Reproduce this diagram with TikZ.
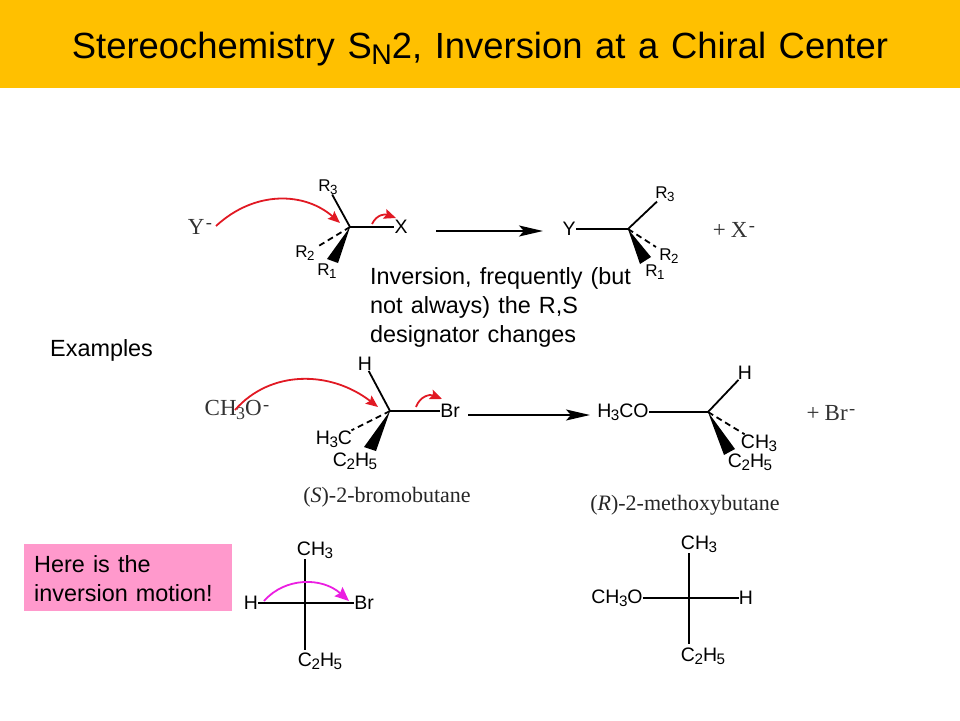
\documentclass[tikz,border=0pt]{standalone}
\usepackage{fontspec}
\setmainfont{Liberation Sans}
\newfontfamily\serifatom{Liberation Serif}
\newfontfamily\widesans[WordSpace=1.25]{Liberation Sans}
\usetikzlibrary{arrows.meta}
\definecolor{banner}{RGB}{255,192,0}
\definecolor{pinkbox}{RGB}{255,153,204}
\definecolor{pushred}{RGB}{225,25,35}
\definecolor{motionpink}{RGB}{235,30,225}
\newcommand{\lo}[1]{\kern-.5pt\raisebox{-.32ex}{\scalebox{.78}{#1}}}
\newcommand{\hi}[1]{\kern1.5pt\raisebox{.55ex}{\scalebox{.8}{#1}}}

\begin{document}
\begin{tikzpicture}[x=1pt,y=-1pt,
    atom/.style={font=\fontsize{19.5}{20}\selectfont,inner sep=0pt},
    smallatom/.style={font=\fontsize{17}{17}\selectfont,inner sep=0pt},
    ion/.style={font=\serifatom\fontsize{23}{23}\selectfont,inner sep=0pt,text=black!80},
    caption/.style={font=\serifatom\fontsize{22}{22}\selectfont,inner sep=0pt,text=black!85},
    note/.style={font=\widesans\fontsize{23.4}{29}\selectfont,inner sep=0pt,align=left,anchor=west},
    bond/.style={line width=1.8pt},
    hash/.style={line width=1.8pt,dash pattern=on 6pt off 4pt},
    wedge/.style={fill=black},
    react/.style={line width=1.8pt,-{Stealth[length=24pt,width=11pt,inset=5pt]}},
    push/.style={pushred,line width=1.8pt,-{Stealth[length=12pt,width=10pt,inset=2pt]}},
    motion/.style={motionpink,line width=1.8pt,-{Stealth[length=14pt,width=12pt,inset=2pt]}}]
       \useasboundingbox (0,0) rectangle (960,720);
       % Draw banner and title
       \fill[banner] (0,0) rectangle (960,88);
       \node (title) at (480,49) [inner sep=0pt,font=\widesans\fontsize{36.4}{36}\selectfont] {Stereochemistry S\lo{N}2, Inversion at a Chiral Center};

       % Draw general reaction, left side
       \coordinate (c_1) at (350,227);
       \node (y_1) at (200,227) [ion] {Y\hi{-}};
       \node (r3_1) at (328,187) [smallatom] {R\lo{3}};
       \node (x_1) at (401,227) [atom] {X};
       \node (r2_1) at (305,253) [smallatom] {R\lo{2}};
       \node (r1_1) at (327,271) [smallatom] {R\lo{1}};
       \coordinate (h2_1) at (317,247);
       \coordinate (w_1a) at (327,259);
       \coordinate (w_1b) at (338,263);
       \draw[bond] (c_1) -- (r3_1);
       \draw[bond] (c_1) -- (x_1);
       \draw[hash] (c_1) -- (h2_1);
       \fill[wedge] (c_1) -- (w_1a) -- (w_1b) -- cycle;
       \coordinate (a_1) at (216,226);
       \coordinate (b_1) at (340,223);
       \draw[push] (a_1) .. controls (255,190) and (305,192) .. (b_1);
       \coordinate (a_2) at (372,224);
       \coordinate (b_2) at (396,218);
       \draw[push] (a_2) .. controls (377,214) and (385,214) .. (b_2);

       % Draw general reaction, arrow and right side
       \coordinate (p_1) at (436,231);
       \coordinate (p_2) at (543,231);
       \draw[react] (p_1) -- (p_2);
       \coordinate (c_2) at (628,229);
       \node (y_2) at (569,229) [atom] {Y};
       \node (r3_2) at (665,194) [smallatom] {R\lo{3}};
       \node (r2_2) at (669,256) [smallatom] {R\lo{2}};
       \node (r1_2) at (655,272) [smallatom] {R\lo{1}};
       \coordinate (h2_2) at (656,247);
       \coordinate (w_2a) at (640,264);
       \coordinate (w_2b) at (651,257);
       \draw[bond] (c_2) -- (y_2);
       \draw[bond] (c_2) -- (r3_2);
       \draw[hash] (c_2) -- (h2_2);
       \fill[wedge] (c_2) -- (w_2a) -- (w_2b) -- cycle;
       \node (x_ion) at (734,230) [ion] {+\kern5pt X\hi{-}};

       % Draw notes
       \node (note) at (370,307) [note] {Inversion, frequently (but\\not always) the R,S\\designator changes};
       \node (examples) at (50,350) [note] {Examples};

       % Draw bromobutane
       \coordinate (c_3) at (390,411);
       \node (me_3) at (237,410) [ion] {CH\lo{3}O\hi{-}};
       \node (h_3) at (365,364) [atom] {H};
       \node (br_3) at (450,411) [atom] {Br};
       \node (ch_3) at (334,439) [atom] {H\lo{3}C};
       \node (et_3) at (355,461) [atom] {C\lo{2}H\lo{5}};
       \coordinate (w_3a) at (364,447);
       \coordinate (w_3b) at (376,451);
       \draw[bond] (c_3) -- (h_3);
       \draw[bond] (c_3) -- (br_3);
       \draw[hash] (c_3) -- (ch_3);
       \fill[wedge] (c_3) -- (w_3a) -- (w_3b) -- cycle;
       \coordinate (a_3) at (235,410);
       \coordinate (b_3) at (378,407);
       \draw[push] (a_3) .. controls (270,370) and (330,370) .. (b_3);
       \coordinate (a_4) at (416,407);
       \coordinate (b_4) at (442,399);
       \draw[push] (a_4) .. controls (420,396) and (430,394) .. (b_4);
       \node (cap_3) at (387,497) [caption] {(\textit{S})-2-bromobutane};

       % Draw second arrow and methoxybutane
       \coordinate (p_3) at (468,415);
       \coordinate (p_4) at (590,415);
       \draw[react] (p_3) -- (p_4);
       \coordinate (c_4) at (708,412);
       \node (o_4) at (623,412) [atom] {H\lo{3}CO};
       \node (h_4) at (745,373) [atom] {H};
       \node (ch_4) at (759,443) [atom] {CH\lo{3}};
       \node (et_4) at (750,462) [atom] {C\lo{2}H\lo{5}};
       \coordinate (w_4a) at (724,455);
       \coordinate (w_4b) at (735,449);
       \draw[bond] (c_4) -- (o_4);
       \draw[bond] (c_4) -- (h_4);
       \draw[hash] (c_4) -- (ch_4);
       \fill[wedge] (c_4) -- (w_4a) -- (w_4b) -- cycle;
       \node (br_ion) at (831,413) [ion] {+\kern5pt Br\hi{-}};
       \node (cap_4) at (685,505) [caption] {(\textit{R})-2-methoxybutane};

       % Draw pink box
       \fill[pinkbox] (24,544) rectangle (232,611);
       \node (motion) at (34,579) [note] {Here is the\\inversion motion!};

       % Draw first cross
       \coordinate (c_5) at (305,603);
       \node (t_5) at (315,550) [atom] {CH\lo{3}};
       \node (b_5) at (320,661) [atom] {C\lo{2}H\lo{5}};
       \node (l_5) at (251,603) [atom] {H};
       \node (r_5) at (364,603) [atom] {Br};
       \coordinate (vt_5) at (305,559);
       \coordinate (vb_5) at (305,650);
       \draw[bond] (vt_5) -- (vb_5);
       \draw[bond] (l_5) -- (r_5);
       \coordinate (a_5) at (264,601);
       \coordinate (b_5e) at (349,601);
       \draw[motion] (a_5) .. controls (285,577) and (322,577) .. (b_5e);

       % Draw second cross
       \coordinate (c_6) at (689,598);
       \node (t_6) at (699,544) [atom] {CH\lo{3}};
       \node (b_6) at (703,656) [atom] {C\lo{2}H\lo{5}};
       \node (l_6) at (617,598) [atom] {CH\lo{3}O};
       \node (r_6) at (746,598) [atom] {H};
       \coordinate (vt_6) at (689,553);
       \coordinate (vb_6) at (689,644);
       \draw[bond] (vt_6) -- (vb_6);
       \draw[bond] (l_6) -- (r_6);
   \end{tikzpicture}
\end{document}
